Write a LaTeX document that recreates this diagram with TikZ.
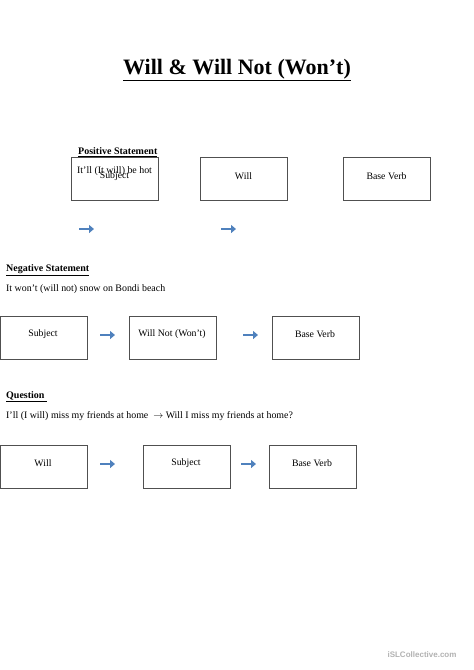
\documentclass[tikz,border=0pt]{standalone}
\usepackage{fontspec}
\setmainfont{Liberation Serif}
\newfontfamily\wmfont{Liberation Sans}
\usetikzlibrary{arrows.meta}
\definecolor{arrowblue}{HTML}{4F81BD}
\definecolor{boxgray}{HTML}{505050}
\begin{document}
\begin{tikzpicture}[x=1pt,y=-1pt,
  wbox/.style={draw=boxgray,line width=0.9pt,minimum width=87pt,minimum height=43pt,anchor=north west,inner sep=0pt},
  boxtxt/.style={font=\fontsize{9.8}{11}\selectfont,inner sep=0pt},
  bodytxt/.style={font=\fontsize{9.9}{11}\selectfont,anchor=west,inner sep=0pt},
  headtxt/.style={font=\fontsize{10}{11}\selectfont\bfseries,anchor=west,inner sep=0pt},
  barrow/.style={draw=arrowblue,line width=2.2pt,-{Triangle[length=5pt,width=8pt]}}
]
\useasboundingbox (0,0) rectangle (474,670);
\fill[white] (0,0) rectangle (474,670);

% title
\node[font=\fontsize{22}{25}\selectfont\bfseries,inner sep=0pt] (title) at (237,70) {\underline{Will \& Will Not (Won’t)}};

% positive statement
\node[headtxt] (poshead) at (78,152) {\underline{Positive Statement}};
\node[wbox] (p1) at (71,157) {};
\node[wbox] (p2) at (200,157) {};
\node[wbox] (p3) at (343,157) {};
\node[boxtxt] (p1t) at (114.5,176) {Subject};
\node[bodytxt] (posex) at (77,171) {It'll (It will) be hot};
\node[boxtxt] (p2t) at (243.5,176) {Will};
\node[boxtxt] (p3t) at (386.5,176) {Base Verb};
\coordinate (pa1s) at (79,229);
\coordinate (pa1e) at (94,229);
\coordinate (pa2s) at (221,229);
\coordinate (pa2e) at (236,229);
\draw[barrow] (pa1s) -- (pa1e);
\draw[barrow] (pa2s) -- (pa2e);

% negative statement
\node[headtxt] (neghead) at (6,270) {\underline{Negative Statement}};
\node[bodytxt] (negex) at (6,289) {It won't (will not) snow on Bondi beach};
\node[wbox] (n1) at (0,316) {};
\node[wbox] (n2) at (129,316) {};
\node[wbox] (n3) at (272,316) {};
\node[boxtxt] (n1t) at (43,334) {Subject};
\node[boxtxt] (n2t) at (172,334) {Will Not (Won't)};
\node[boxtxt] (n3t) at (315,334) {Base Verb};
\coordinate (na1s) at (100,335);
\coordinate (na1e) at (115,335);
\coordinate (na2s) at (243,335);
\coordinate (na2e) at (258,335);
\draw[barrow] (na1s) -- (na1e);
\draw[barrow] (na2s) -- (na2e);

% question
\node[headtxt] (qhead) at (6,397) {\underline{Question\ }};
\node[bodytxt] (qex) at (6,416) {I'll (I will) miss my friends at home\ \ $\rightarrow$ Will I miss my friends at home?};
\node[wbox] (q1) at (0,445) {};
\node[wbox] (q2) at (143,445) {};
\node[wbox] (q3) at (269,445) {};
\node[boxtxt] (q1t) at (43,463) {Will};
\node[boxtxt] (q2t) at (186,463) {Subject};
\node[boxtxt] (q3t) at (312,463) {Base Verb};
\coordinate (qa1s) at (100,464);
\coordinate (qa1e) at (115,464);
\coordinate (qa2s) at (241,464);
\coordinate (qa2e) at (256,464);
\draw[barrow] (qa1s) -- (qa1e);
\draw[barrow] (qa2s) -- (qa2e);

% watermark
\node[font=\wmfont\bfseries\fontsize{8}{9}\selectfont,text=black!30,inner sep=0pt] (wm) at (422,655) {iSLCollective.com};
\end{tikzpicture}
\end{document}
